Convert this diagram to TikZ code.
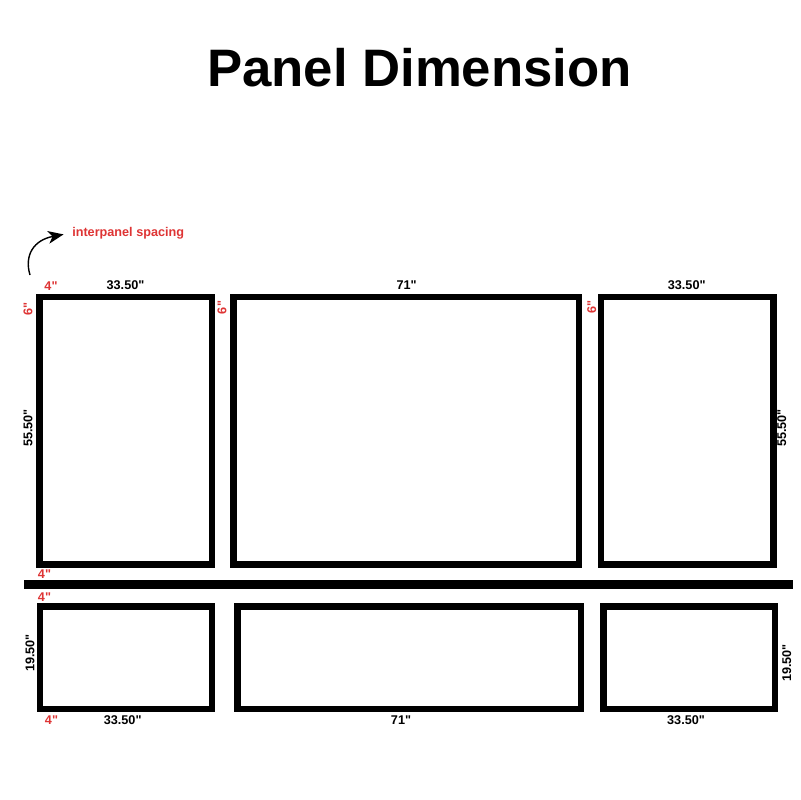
\documentclass[tikz,border=0pt]{standalone}
\usepackage{fontspec}
\setmainfont{Liberation Sans}
\usetikzlibrary{arrows.meta}
\definecolor{gapred}{RGB}{222,52,52}
\newcommand{\inch}{\textquotedbl}
\tikzset{
  panel/.style={draw=black, line width=4.75pt, line join=miter},
  dim/.style={font=\bfseries\fontsize{9}{10}\selectfont, inner sep=0pt},
  gap/.style={dim, text=gapred}
}
\begin{document}
\begin{tikzpicture}[x=0.025cm, y=-0.025cm]
  \useasboundingbox (0,0) rectangle (800,800);
  \node[font=\bfseries\fontsize{37.5}{40}\selectfont] (title) at (419.5,67.5) {Panel Dimension};
  \draw[panel] (39.5,297) rectangle (212,564.5);
  \draw[panel] (233.5,297) rectangle (579,564.5);
  \draw[panel] (601,297) rectangle (773.5,564.5);
  \draw[line width=6.4pt] (24,584.7) -- (793,584.7);
  \draw[panel] (40,606.7) rectangle (212,709);
  \draw[panel] (237.5,606.7) rectangle (581,709);
  \draw[panel] (603.3,606.7) rectangle (775,709);
  \node[gap, anchor=west] (spacing) at (72,233) {interpanel spacing};
  \coordinate (tail) at (30,275);
  \draw[line width=1pt, -{Stealth[length=11pt, width=9pt, inset=3pt]}]
    (tail) .. controls (24,255) and (34,240) .. ([xshift=-6pt,yshift=-1pt]spacing.west);
  \node[gap] (g1) at (51,286) {4\inch};
  \node[dim] (w1) at (125.5,285) {33.50\inch};
  \node[dim] (w2) at (406.7,285) {71\inch};
  \node[dim] (w3) at (686.7,285) {33.50\inch};
  \node[gap, rotate=90] (s1) at (28,309) {6\inch};
  \node[gap, rotate=90] (s2) at (222,307.5) {6\inch};
  \node[gap, rotate=90] (s3) at (591.7,306.7) {6\inch};
  \node[dim, rotate=90] (h1) at (28,428) {55.50\inch};
  \node[dim, rotate=90] (h2) at (781.7,428) {55.50\inch};
  \node[gap] (g2) at (44.5,574) {4\inch};
  \node[gap] (g3) at (44.5,596.7) {4\inch};
  \node[dim, rotate=90] (h3) at (30,653) {19.50\inch};
  \node[dim, rotate=90] (h4) at (786.7,663) {19.50\inch};
  \node[gap] (g4) at (51.5,720) {4\inch};
  \node[dim] (w4) at (122.7,720) {33.50\inch};
  \node[dim] (w5) at (401,720) {71\inch};
  \node[dim] (w6) at (686,720) {33.50\inch};
\end{tikzpicture}
\end{document}
